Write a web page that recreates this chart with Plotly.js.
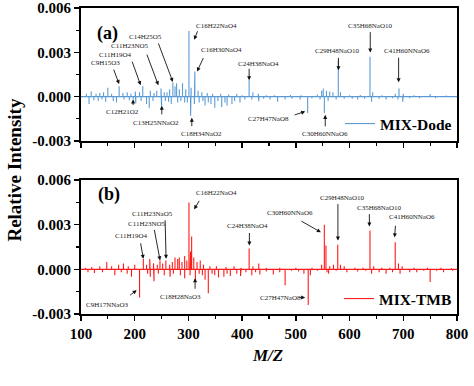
<!DOCTYPE html>
<html><head><meta charset="utf-8">
<script src="https://cdn.plot.ly/plotly-3.0.1.min.js"></script>
<style>html,body{margin:0;padding:0;background:#fff}#chart{width:474px;height:386px}</style>
</head><body><div id="chart"></div>
<script>
// ---- Data: panel (a) MIX-Dode ----
const mzDode = [110,119,128,135,142,150,157,171,178,186,193,201,209,215,229,236,241,249,255,260,265,271,275,278,283,289,295,301,305,312,318,325,335,345,360,375,390,400,413,420,430,445,460,490,510,540,548,551,557,563,569,579,583,600,620,638,643,660,685,692,700,720,750,780,
 115,124,132,139,146,160,166,180,190,197,202,212,222,227,234,250,257,263,268,280,286,293,298,304,311,320,327,331,337,342,349,355,362,368,372,381,386,396,405,418,431,440,452,466,480,493,508,522,530,545,553,560,575,590,605,615,628,641,655,668,680,690,699,712,730,760];
const intDode = [0.0002,0.00035,0.0002,0.00025,0.0003,0.0006,0.0002,0.0007,0.00025,0.0003,0.0002,0.00035,0.0003,0.0007,0.0004,0.00025,0.0004,0.00055,0.0003,0.0003,0.0005,0.00095,0.0007,0.0009,0.0005,0.0009,0.0005,0.00445,0.0006,0.0017,0.0004,0.0003,0.00025,0.0002,0.0002,0.00015,0.0002,0.0001,0.00112,0.0003,0.0002,0.0001,0.0001,0.00012,0.0001,0.00015,0.0004,0.00055,0.0004,0.00035,0.0003,0.00245,0.0003,0.0001,0.00012,0.0027,0.0003,0.0001,0.0002,0.00056,0.0002,0.0001,0.00018,0.00008,
 -0.0005,-0.00025,-0.0003,-0.0002,-0.00035,-0.0003,-0.0004,-0.0002,-0.00025,-0.0002,-0.00045,-0.0003,-0.0005,-0.00076,-0.0003,-0.00065,-0.0003,-0.00035,-0.0005,-0.0004,-0.0003,-0.0004,-0.0004,-0.0013,-0.0005,-0.0004,-0.0003,-0.0006,-0.0004,-0.0005,-0.00075,-0.0003,-0.0007,-0.0004,-0.0006,-0.0005,-0.0003,-0.0004,-0.0002,-0.0002,-0.0003,-0.00015,-0.0002,-0.00035,-0.0002,-0.00015,-0.0002,-0.0011,-0.0001,-0.0002,-0.0011,-0.0003,-0.0002,-0.00015,-0.00015,-0.0002,-0.00015,-0.00035,-0.00015,-0.0002,-0.0001,-0.0002,-0.00035,-0.0001,-0.0001,-0.0001];

// ---- Data: panel (b) MIX-TMB ----
const mzTMB = [108,120,135,148,157,170,179,188,200,216,222,228,235,242,247,252,258,265,270,275,280,283,288,293,297,301,304,306,310,316,322,328,340,352,370,385,398,413,420,431,445,470,500,530,548,553,556,563,570,578,583,590,610,625,638,645,660,675,685,691,698,720,745,770,790,
 113,125,140,163,175,186,194,209,224,229,236,244,255,266,272,285,293,303,313,320,326,331,337,344,349,356,366,372,378,390,397,407,418,425,433,445,458,470,480,492,505,515,523,527,540,558,561,575,595,615,630,641,655,668,680,694,712,725,738,750,762,775,792];
const intTMB = [0.0001,0.00015,0.0002,0.0005,0.0002,0.0003,0.0004,0.0002,0.0003,0.0007,0.0003,0.0007,0.0004,0.0003,0.0006,0.0004,0.0006,0.0003,0.0005,0.0008,0.0007,0.0008,0.0005,0.0009,0.0006,0.00449,0.0012,0.0022,0.0008,0.0005,0.0006,0.0003,0.0002,0.0002,0.00015,0.0002,0.0001,0.0014,0.0002,0.0004,0.0001,0.0001,0.0001,0.0001,0.0003,0.003,0.0016,0.0002,0.0003,0.00165,0.0003,0.0002,0.0001,0.0001,0.0026,0.0002,0.0001,0.0001,0.00182,0.0004,0.0002,0.0001,0.0001,0.0001,0.00008,
 -0.0002,-0.00025,-0.0002,-0.0004,-0.0002,-0.0003,-0.0005,-0.0019,-0.0003,-0.0005,-0.0008,-0.0003,-0.0004,-0.0005,-0.0003,-0.0004,-0.0006,-0.0004,-0.00073,-0.0003,-0.0004,-0.0007,-0.0016,-0.0003,-0.0004,-0.00055,-0.0005,-0.0003,-0.00045,-0.0003,-0.00045,-0.0002,-0.0004,-0.0002,-0.00035,-0.00015,-0.00035,-0.0002,-0.00107,-0.0001,-0.00015,-0.0003,-0.0024,-0.0004,-0.0001,-0.0002,-0.0003,-0.0001,-0.0002,-0.00015,-0.0001,-0.0003,-0.0002,-0.0003,-0.0002,-0.0003,-0.0002,-0.0002,-0.0001,-0.00085,-0.0001,-0.0002,-0.0001];

// ---- Tick labels ----
const yTickVals = [-0.003, 0, 0.003, 0.006];
const yTickText = ['-0.003', '0.000', '0.003', '0.006'];
const xTickVals = [100,200,300,400,500,600,700,800];

// ---- Peak labels: [text, tip m/z, tip intensity, arrow dx px, arrow dy px, label m/z, label intensity]
const labelsDode = [
 ['C9H15O3',171,0.00085,-6,-16,144.7,0.00226],
 ['C11H19O4',211,0.00078,-9,-25,163.4,0.00285],
 ['C11H23NO5',244,0.00078,-12,-32,191.3,0.00344],
 ['C14H25O5',271,0.001,-15,-40,219.3,0.00403],
 ['C12H21O2',197,-0.00019,0,7,177.7,-0.00107],
 ['C13H25NNaO2',250.4,-0.00062,0,10,239.8,-0.00177],
 ['C18H34NaO2',306.3,-0.00142,0,10,324.9,-0.00255],
 ['C16H22NaO4',310.6,0.00385,4,-10,351.5,0.00478],
 ['C16H30NaO4',316,0.0017,7,-15,360.9,0.00318],
 ['C24H38NaO4',413,0.00111,0,-13,430.4,0.00222],
 ['C27H47NaO8',517.4,-0.001,-12,4,449,-0.0015],
 ['C30H60NNaO6',554.7,-0.00123,0,13,554.7,-0.00255],
 ['C29H48NaO10',579.3,0.00178,0,-14,576.4,0.00311],
 ['C35H68NaO10',638.5,0.00298,0,-22,638.5,0.00478],
 ['C41H60NNaO6',691.3,0.00098,0,-26,706.9,0.00311]
];
const labelsTMB = [
 ['C9H17NNaO3',203.7,-0.0014,-8,6,147.9,-0.0024],
 ['C11H19O4',216.1,0.00071,-3,-17,194.4,0.00227],
 ['C11H23NO5',247.2,0.0006,-6,-32,222.3,0.00305],
 ['C11H23NaO5',258.4,0.00071,-1,-40,233.5,0.00371],
 ['C16H22NaO4',310.6,0.00403,6,-10,352.8,0.00515],
 ['C18H28NaO3',312.4,-0.0006,0,12,284.5,-0.00185],
 ['C24H38NaO4',413.5,0.0016,0,-14,409.3,0.00293],
 ['C30H60NNaO6',546.6,0.00249,-21,-12,489.4,0.00378],
 ['C29H48NaO10',578.3,0.00193,0,-38,585.7,0.00478],
 ['C35H68NaO10',636.9,0.00287,0,-14,654,0.00415],
 ['C41H60NNaO6',683.8,0.00215,1,-13,716.2,0.00349],
 ['C27H47NaO8',517.4,-0.00189,-7,0,470.8,-0.00195]
];

function spikes(mz, it) {
  const idx = mz.map((m, i) => i).sort((a, b) => mz[a] - mz[b]);
  const x = [100], y = [0];
  idx.forEach(i => { x.push(mz[i], mz[i], mz[i]); y.push(0, it[i], 0); });
  x.push(800); y.push(0);
  return {x, y};
}
const sA = spikes(mzDode, intDode);
const sB = spikes(mzTMB, intTMB);

const serif = 'Liberation Serif, Times New Roman, serif';
const traces = [
  {x: sA.x, y: sA.y, xaxis: 'x2', yaxis: 'y2', type: 'scatter', mode: 'lines',
   line: {color: '#5b9bd5', width: 1.1}, name: 'MIX-Dode', legend: 'legend'},
  {x: sB.x, y: sB.y, xaxis: 'x', yaxis: 'y', type: 'scatter', mode: 'lines',
   line: {color: '#ff1a1a', width: 1.1}, name: 'MIX-TMB', legend: 'legend2'}
];

const tickFont = {family: serif, size: 15, color: '#000', weight: 'bold'};
function xax(anchor, labels) {
  return {anchor: anchor, range: [100, 800], tickvals: xTickVals, ticks: 'outside', ticklen: 5, tickwidth: 1.5,
    tickcolor: '#000', showline: true, linewidth: 2, linecolor: '#000', mirror: true, showgrid: false, zeroline: false,
    showticklabels: labels, tickfont: tickFont, fixedrange: true, ticklabeloverflow: 'allow',
    minor: {dtick: 50, tick0: 0, ticks: 'outside', ticklen: 3, tickwidth: 1.2, tickcolor: '#000', showgrid: false}};
}
function yax(anchor, domain) {
  return {anchor: anchor, domain: domain, range: [-0.003, 0.006], tickvals: yTickVals, ticktext: yTickText,
    ticks: 'outside', ticklen: 5, tickwidth: 1.5, tickcolor: '#000', showline: true, linewidth: 2, linecolor: '#000',
    mirror: true, showgrid: false, zeroline: false, tickfont: tickFont, fixedrange: true, ticklabeloverflow: 'allow',
    minor: {dtick: 0.0015, tick0: 0, ticks: 'outside', ticklen: 3, tickwidth: 1.2, tickcolor: '#000', showgrid: false}};
}

const annotations = [];
function addLabels(list, xr, yr) {
  list.forEach(l => {
    annotations.push({xref: xr, yref: yr, x: l[1], y: l[2], ax: l[3], ay: l[4], text: '', showarrow: true,
      arrowhead: 2, arrowsize: 0.9, arrowwidth: 0.9, arrowcolor: '#111', standoff: 0, startstandoff: 0});
    annotations.push({xref: xr, yref: yr, x: l[5], y: l[6], text: l[0], showarrow: false,
      font: {family: serif, size: 7, color: '#222'}});
  });
}
addLabels(labelsDode, 'x2', 'y2');
addLabels(labelsTMB, 'x', 'y');
annotations.push(
  {xref: 'paper', yref: 'paper', x: 0.037, y: 0.9575, text: '(a)', showarrow: false,
   font: {family: serif, size: 18, color: '#000', weight: 'bold'}},
  {xref: 'paper', yref: 'paper', x: 0.04, y: 0.3905, text: '(b)', showarrow: false,
   font: {family: serif, size: 18, color: '#000', weight: 'bold'}},
  {xref: 'paper', yref: 'paper', x: -0.1755, y: 0.472, xanchor: 'center', yanchor: 'middle',
   text: 'Relative Intensity', textangle: -90, showarrow: false,
   font: {family: serif, size: 19, color: '#000', weight: 'bold'}},
  {xref: 'paper', yref: 'paper', x: 0.497, y: -0.134, xanchor: 'center', yanchor: 'middle',
   text: 'M/Z', showarrow: false,
   font: {family: serif, size: 17, color: '#000', weight: 'bold', style: 'italic'}}
);

const legendBase = {xanchor: 'right', x: 1, yanchor: 'middle', bgcolor: 'rgba(0,0,0,0)', borderwidth: 0,
  font: {family: serif, size: 15.5, color: '#000', weight: 'bold'}, itemwidth: 30, tracegroupgap: 0};

const layout = {
  width: 474, height: 386,
  margin: {l: 81, r: 17, t: 8, b: 72},
  paper_bgcolor: '#fff', plot_bgcolor: '#fff',
  showlegend: true,
  xaxis: xax('y', true),
  xaxis2: Object.assign(xax('y2', false), {matches: 'x'}),
  yaxis: yax('x', [0, 0.4379]),
  yaxis2: yax('x2', [0.5654, 1]),
  legend: Object.assign({}, legendBase, {y: 0.621}),
  legend2: Object.assign({}, legendBase, {y: 0.049}),
  annotations: annotations
};

Plotly.newPlot('chart', traces, layout, {staticPlot: true, displayModeBar: false});
</script>
</body></html>
